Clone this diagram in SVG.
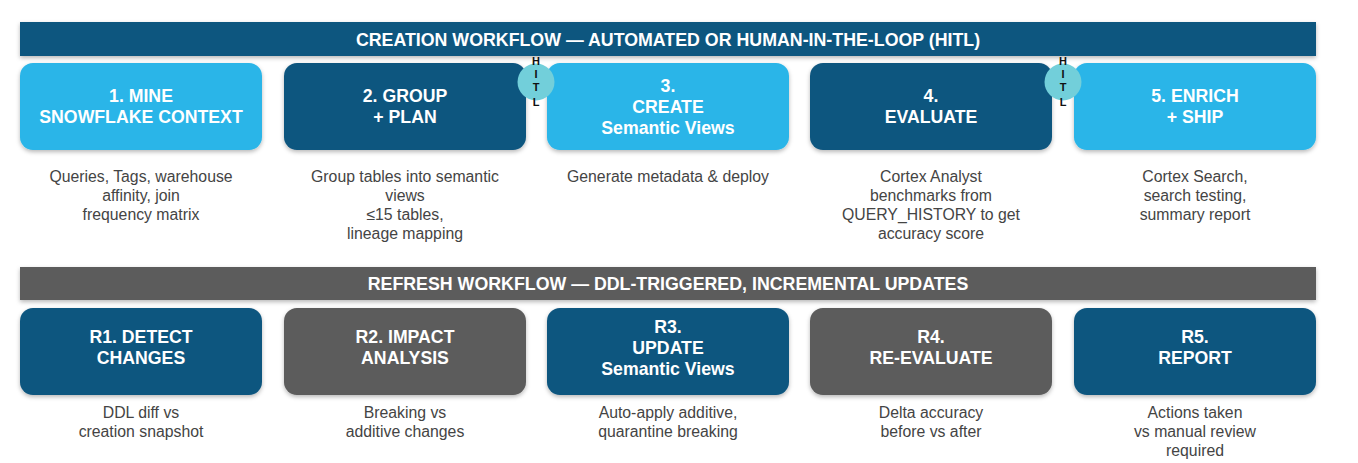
<svg xmlns="http://www.w3.org/2000/svg" width="1358" height="463" viewBox="0 0 1358 463">
  <style>
    .banner-text { font-family: "Liberation Sans", Arial, sans-serif; font-weight: bold; font-size: 17.8px; fill: #ffffff; text-anchor: middle; }
    .box-title { font-family: "Liberation Sans", Arial, sans-serif; font-weight: bold; font-size: 17.7px; fill: #ffffff; text-anchor: middle; }
    .desc { font-family: "Liberation Sans", Arial, sans-serif; font-size: 15.8px; fill: #444444; text-anchor: middle; }
    .hitl-text { font-family: "Liberation Sans", Arial, sans-serif; font-weight: bold; font-size: 11px; fill: #111111; text-anchor: middle; }
    .light { fill: #29B5E8; }
    .dark { fill: #11567F; }
    .gray { fill: #5B5B5B; }
    .gate { fill: #72CFDA; }
  </style>
  <defs>
    <filter id="shadow" x="-5%" y="-10%" width="110%" height="130%">
      <feDropShadow dx="0" dy="2" stdDeviation="2" flood-color="#000000" flood-opacity="0.28"/>
    </filter>
  </defs>

  <rect width="1358" height="463" fill="#ffffff"/>

  <!-- Creation workflow banner -->
  <g id="banner-creation">
    <rect class="dark" x="20" y="22" width="1296" height="34" filter="url(#shadow)"/>
    <text class="banner-text" x="668" y="45.5">CREATION WORKFLOW — AUTOMATED OR HUMAN-IN-THE-LOOP (HITL)</text>
  </g>

  <!-- Creation steps -->
  <g id="step-1">
    <rect class="light" x="20" y="63" width="242" height="87" rx="13" filter="url(#shadow)"/>
    <text class="box-title" x="141" y="102">1. MINE</text>
    <text class="box-title" x="141" y="123">SNOWFLAKE CONTEXT</text>
    <text class="desc" x="141" y="182">Queries, Tags, warehouse</text>
    <text class="desc" x="141" y="201">affinity, join</text>
    <text class="desc" x="141" y="220">frequency matrix</text>
  </g>
  <g id="step-2">
    <rect class="dark" x="284" y="63" width="242" height="87" rx="13" filter="url(#shadow)"/>
    <text class="box-title" x="405" y="102">2. GROUP</text>
    <text class="box-title" x="405" y="123">+ PLAN</text>
    <text class="desc" x="405" y="182">Group tables into semantic</text>
    <text class="desc" x="405" y="201">views</text>
    <text class="desc" x="405" y="220">≤15 tables,</text>
    <text class="desc" x="405" y="239">lineage mapping</text>
  </g>
  <g id="step-3">
    <rect class="light" x="547" y="63" width="242" height="87" rx="13" filter="url(#shadow)"/>
    <text class="box-title" x="668" y="92">3.</text>
    <text class="box-title" x="668" y="113">CREATE</text>
    <text class="box-title" x="668" y="134">Semantic Views</text>
    <text class="desc" x="668" y="182">Generate metadata &amp; deploy</text>
  </g>
  <g id="step-4">
    <rect class="dark" x="810" y="63" width="242" height="87" rx="13" filter="url(#shadow)"/>
    <text class="box-title" x="931" y="102">4.</text>
    <text class="box-title" x="931" y="123">EVALUATE</text>
    <text class="desc" x="931" y="182">Cortex Analyst</text>
    <text class="desc" x="931" y="201">benchmarks from</text>
    <text class="desc" x="931" y="220">QUERY_HISTORY to get</text>
    <text class="desc" x="931" y="239">accuracy score</text>
  </g>
  <g id="step-5">
    <rect class="light" x="1074" y="63" width="242" height="87" rx="13" filter="url(#shadow)"/>
    <text class="box-title" x="1195" y="102">5. ENRICH</text>
    <text class="box-title" x="1195" y="123">+ SHIP</text>
    <text class="desc" x="1195" y="182">Cortex Search,</text>
    <text class="desc" x="1195" y="201">search testing,</text>
    <text class="desc" x="1195" y="220">summary report</text>
  </g>

  <!-- Human-in-the-loop gates between steps -->
  <g id="connectors">
    <g id="hitl-gate-2-3">
      <circle class="gate" cx="536" cy="82" r="18.5"/>
      <text class="hitl-text" x="536" y="65">H</text>
      <text class="hitl-text" x="536" y="78">I</text>
      <text class="hitl-text" x="536" y="91">T</text>
      <text class="hitl-text" x="536" y="106">L</text>
    </g>
    <g id="hitl-gate-4-5">
      <circle class="gate" cx="1063" cy="82" r="18.5"/>
      <text class="hitl-text" x="1063" y="65">H</text>
      <text class="hitl-text" x="1063" y="78">I</text>
      <text class="hitl-text" x="1063" y="91">T</text>
      <text class="hitl-text" x="1063" y="106">L</text>
    </g>
  </g>

  <!-- Refresh workflow banner -->
  <g id="banner-refresh">
    <rect class="gray" x="20" y="267" width="1296" height="33" filter="url(#shadow)"/>
    <text class="banner-text" x="668" y="289.5">REFRESH WORKFLOW — DDL-TRIGGERED, INCREMENTAL UPDATES</text>
  </g>

  <!-- Refresh steps -->
  <g id="step-r1">
    <rect class="dark" x="20" y="308" width="242" height="87" rx="13" filter="url(#shadow)"/>
    <text class="box-title" x="141" y="343">R1. DETECT</text>
    <text class="box-title" x="141" y="364">CHANGES</text>
    <text class="desc" x="141" y="418">DDL diff vs</text>
    <text class="desc" x="141" y="437">creation snapshot</text>
  </g>
  <g id="step-r2">
    <rect class="gray" x="284" y="308" width="242" height="87" rx="13" filter="url(#shadow)"/>
    <text class="box-title" x="405" y="343">R2. IMPACT</text>
    <text class="box-title" x="405" y="364">ANALYSIS</text>
    <text class="desc" x="405" y="418">Breaking vs</text>
    <text class="desc" x="405" y="437">additive changes</text>
  </g>
  <g id="step-r3">
    <rect class="dark" x="547" y="308" width="242" height="87" rx="13" filter="url(#shadow)"/>
    <text class="box-title" x="668" y="333">R3.</text>
    <text class="box-title" x="668" y="354">UPDATE</text>
    <text class="box-title" x="668" y="375">Semantic Views</text>
    <text class="desc" x="668" y="418">Auto-apply additive,</text>
    <text class="desc" x="668" y="437">quarantine breaking</text>
  </g>
  <g id="step-r4">
    <rect class="gray" x="810" y="308" width="242" height="87" rx="13" filter="url(#shadow)"/>
    <text class="box-title" x="931" y="343">R4.</text>
    <text class="box-title" x="931" y="364">RE-EVALUATE</text>
    <text class="desc" x="931" y="418">Delta accuracy</text>
    <text class="desc" x="931" y="437">before vs after</text>
  </g>
  <g id="step-r5">
    <rect class="dark" x="1074" y="308" width="242" height="87" rx="13" filter="url(#shadow)"/>
    <text class="box-title" x="1195" y="343">R5.</text>
    <text class="box-title" x="1195" y="364">REPORT</text>
    <text class="desc" x="1195" y="418">Actions taken</text>
    <text class="desc" x="1195" y="437">vs manual review</text>
    <text class="desc" x="1195" y="456">required</text>
  </g>
</svg>
